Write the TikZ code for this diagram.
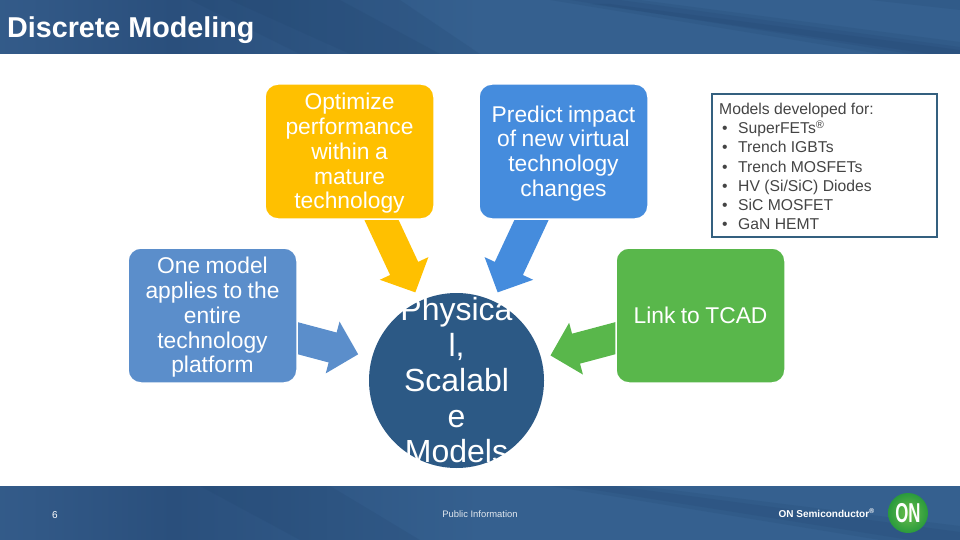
\documentclass[tikz,border=0pt]{standalone}
\usepackage{fontspec}
\setmainfont{Liberation Sans}
\usetikzlibrary{arrows.meta,backgrounds}
\definecolor{optyellow}{HTML}{FFC000}
\definecolor{predblue}{HTML}{458CDD}
\definecolor{oneblue}{HTML}{5B8ECB}
\definecolor{tcadgreen}{HTML}{59B74B}
\definecolor{physblue}{HTML}{2C5985}
\definecolor{listline}{HTML}{34607F}
\definecolor{listtext}{HTML}{444444}
\definecolor{barlight}{HTML}{3E6898}
\definecolor{barmid}{HTML}{35608F}
\definecolor{bardark}{HTML}{2A4F7C}
\definecolor{streakdark}{HTML}{1B3C63}
\definecolor{logoinner}{HTML}{6ABF4B}
\definecolor{logoouter}{HTML}{2A9A3C}
\pgfdeclarehorizontalshading{barshade}{100bp}{color(0bp)=(barlight); color(15bp)=(barlight); color(34bp)=(bardark); color(50bp)=(barmid); color(75bp)=(barmid); color(100bp)=(bardark)}
\newcommand{\listitem}[1]{\makebox[19pt][l]{\hspace{3pt}\textbullet}#1}
\newcommand{\blockfont}{\fontsize{22.8}{24.8}\selectfont\setlength{\spaceskip}{0.24em}}
\begin{document}
\begin{tikzpicture}[x=1pt, y=-1pt,
		block/.style={draw=white, line width=1.5pt, rounded corners=13pt, minimum width=169pt, minimum height=135pt, inner sep=0pt},
		flow/.style={line width=31pt, shorten >=9.5pt, -{Triangle[length=26.5pt,width=52pt]}},
		letter/.style={text=white, align=center, inner sep=0pt},
		blocktext/.style={letter, font=\blockfont},
		streak/.style={fill=streakdark, opacity=0.13}]
	\useasboundingbox (0,0) rectangle (960,540);

	\node[block, fill=optyellow] (opt) at (349.5,151.5) {};
	\node[block, fill=predblue] (pred) at (563.5,151.5) {};
	\node[block, fill=oneblue] (one) at (212.5,315.5) {};
	\node[block, fill=tcadgreen] (tcad) at (700.5,315.5) {};
	\node[circle, fill=physblue, minimum size=175pt, inner sep=0pt] (phys) at (456.5,380.5) {};

	\node[blocktext] (optlabel) at (349.5,153.5) {Optimize\\performance\\within a\\mature\\technology};
	\node[blocktext] (predlabel) at (563.5,153.5) {Predict impact\\of new virtual\\technology\\changes};
	\node[blocktext] (onelabel) at (212.5,317.5) {One model\\applies to the\\entire\\technology\\platform};
	\node[blocktext] (tcadlabel) at (700.5,315.5) {Link to TCAD};
	\node[letter, font=\fontsize{32}{35.5}\selectfont] (physlabel) at (phys.center) {Physica\\l,\\Scalabl\\e\\Models};

	\node[draw=listline, line width=2pt, outer sep=0pt, anchor=north west, minimum width=225pt, minimum height=143pt, inner sep=0pt] (list) at (712,94) {};
	\node[text=listtext, align=left, anchor=west, inner sep=0pt, font=\fontsize{15.7}{19.25}\selectfont] (listlabel) at (719,166.5) {Models developed for:\\\listitem{SuperFETs\textsuperscript{®}}\\\listitem{Trench IGBTs}\\\listitem{Trench MOSFETs}\\\listitem{HV (Si/SiC) Diodes}\\\listitem{SiC MOSFET}\\\listitem{GaN HEMT}};

	\begin{scope}[on background layer]
		\shade[shading=barshade] (0,0) rectangle (960,54);
		\shade[shading=barshade] (0,486) rectangle (960,540);
		\fill[streak] (190,0) -- (400,0) -- (480,54) -- (300,54) -- cycle;
		\fill[streak] (230,0) -- (340,0) -- (440,54) -- (350,54) -- cycle;
		\fill[streak] (550,0) -- (640,0) -- (960,42) -- (960,54) -- (880,54) -- cycle;
		\fill[streak] (570,0) -- (620,0) -- (960,47) -- (960,54) -- (910,54) -- cycle;
		\fill[streak] (590,4) -- (610,4) -- (960,50) -- (960,54) -- (930,54) -- cycle;
		\fill[streak] (870,0) -- (960,0) -- (960,10) -- cycle;
		\fill[streak] (200,486) -- (330,486) -- (420,540) -- (300,540) -- cycle;
		\fill[streak] (550,486) -- (640,486) -- (960,526) -- (960,540) -- (880,540) -- cycle;
		\fill[streak] (570,486) -- (615,486) -- (960,532) -- (960,540) -- (910,540) -- cycle;
		\draw[flow, optyellow] (opt.center) -- (phys);
		\draw[flow, predblue] (pred.center) -- (phys);
		\draw[flow, oneblue, shorten >=14pt] (one.center) -- (phys);
		\draw[flow, tcadgreen] (tcad.center) -- (phys);
	\end{scope}

	\node[letter, anchor=west, font=\fontsize{28.7}{32}\selectfont\bfseries] (title) at (7,30) {Discrete Modeling};
	\node[letter, font=\fontsize{10}{12}\selectfont] (pagenum) at (55,515) {6};
	\node[letter, text=white!85!barlight, font=\fontsize{9.4}{11}\selectfont] (public) at (480,514) {Public Information};
	\node[letter, anchor=east, font=\fontsize{10}{12}\selectfont\bfseries] (brand) at (875,513) {ON Semiconductor\textsuperscript{®}};
	\node[circle, inner sep=0pt, minimum size=40pt, inner color=logoinner, outer color=logoouter, text=white, font=\fontsize{21}{21}\selectfont\bfseries] (logo) at (908,513) {\scalebox{0.8}[1.3]{ON}};
\end{tikzpicture}
\end{document}
